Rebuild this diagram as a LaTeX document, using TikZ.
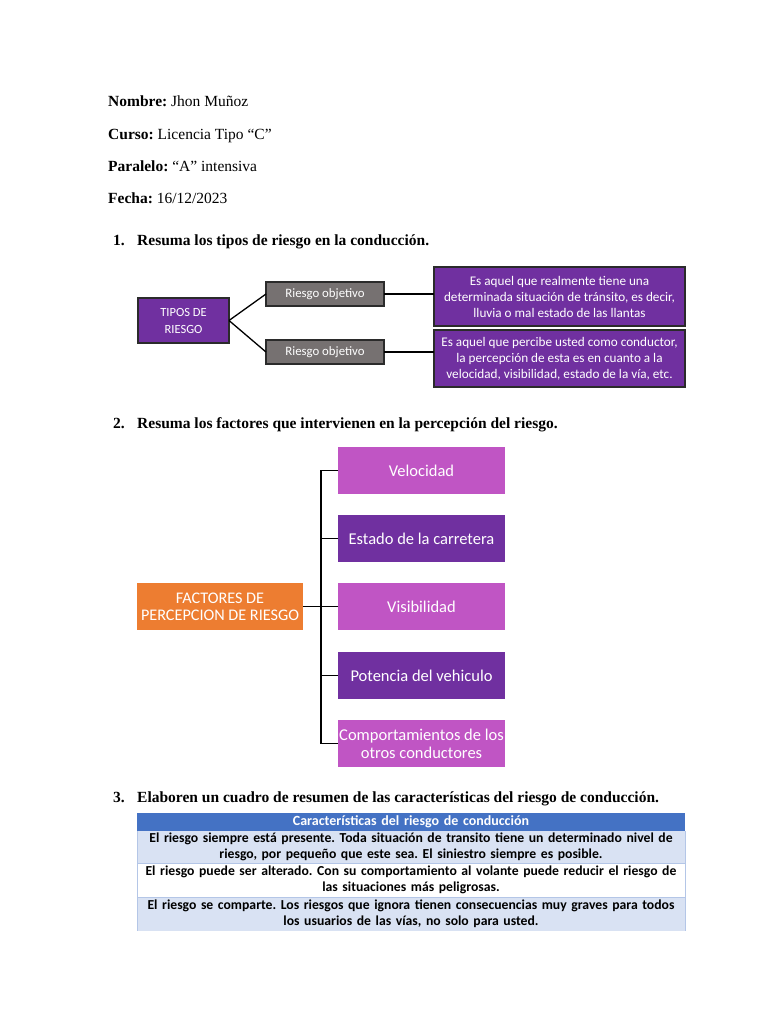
\documentclass[tikz,border=0pt]{standalone}
\usepackage{fontspec}
\setmainfont{Liberation Serif}
\newfontfamily\calfont{Carlito}
\definecolor{purp}{HTML}{7030A0}
\definecolor{magen}{HTML}{C055C4}
\definecolor{grayb}{HTML}{767171}
\definecolor{orng}{HTML}{ED7D31}
\definecolor{hblue}{HTML}{4472C4}
\definecolor{lrow}{HTML}{D9E2F3}
\definecolor{sepb}{HTML}{B4C6E7}
\definecolor{bord}{HTML}{2B2B2B}
\frenchspacing
\begin{document}
\begin{tikzpicture}[x=1pt,y=-1pt,
  hdr/.style={anchor=base west,inner sep=0,font=\fontsize{15.5}{18}\selectfont},
  boxa/.style={anchor=north west,inner sep=0,outer sep=0,draw=bord,line width=1.2pt,text=white,align=center},
  boxb/.style={anchor=north west,inner sep=0,outer sep=0,text=white,align=center,minimum width=167,minimum height=47,font=\calfont\fontsize{16.5}{18}\selectfont},
  conn/.style={draw=black,line width=1.3pt},
  conn2/.style={draw=black,line width=1.8pt},
  trow/.style={anchor=north west,inner sep=0,outer sep=0,minimum width=548,text width=546,align=center,font=\calfont\bfseries\fontsize{13.7}{16}\selectfont,text=black}
]
\useasboundingbox[fill=white] (0,0) rectangle (768,1024);

% header
\node[hdr] (n1) at (108,107) {\textbf{Nombre:} Jhon Muñoz};
\node[hdr] (n2) at (108,140) {\textbf{Curso:} Licencia Tipo “C”};
\node[hdr] (n3) at (108,172) {\textbf{Paralelo:} “A” intensiva};
\node[hdr] (n4) at (108,204) {\textbf{Fecha:} 16/12/2023};
\node[hdr] (q1n) at (113,245) {\textbf{1.}};
\node[hdr] (q1) at (137,245) {\textbf{Resuma los tipos de riesgo en la conducción.}};
\node[hdr] (q2n) at (113,428) {\textbf{2.}};
\node[hdr] (q2) at (137,428) {\textbf{Resuma los factores que intervienen en la percepción del riesgo.}};
\node[hdr] (q3n) at (113,802) {\textbf{3.}};
\node[hdr] (q3) at (137,802) {\textbf{Elaboren un cuadro de resumen de las características del riesgo de conducción.}};

% diagram 1
\node[boxa,fill=purp,minimum width=91,minimum height=45,font=\calfont\fontsize{12.5}{17}\selectfont] (t) at (138,298) {TIPOS DE\\RIESGO};
\node[boxa,fill=grayb,minimum width=118,minimum height=24,font=\calfont\fontsize{12.8}{14}\selectfont] (g1) at (266,282) {Riesgo objetivo};
\node[boxa,fill=grayb,minimum width=118,minimum height=24,font=\calfont\fontsize{12.8}{14}\selectfont] (g2) at (266,340) {Riesgo objetivo};
\node[boxa,fill=purp,minimum width=251,minimum height=59,font=\calfont\fontsize{13.2}{16}\selectfont] (r1) at (434,267) {Es aquel que realmente tiene una\\determinada situación de tránsito, es decir,\\lluvia o mal estado de las llantas};
\node[boxa,fill=purp,minimum width=251,minimum height=57,font=\calfont\fontsize{13.2}{16}\selectfont] (r2) at (434,330) {Es aquel que percibe usted como conductor,\\la percepción de esta es en cuanto a la\\velocidad, visibilidad, estado de la vía, etc.};
\draw[conn] (t.east) -- (g1.west);
\draw[conn] (t.east) -- (g2.west);
\draw[conn] (g1.east) -- (r1.west |- g1.east);
\draw[conn] (g2.east) -- (r2.west |- g2.east);

% diagram 2
\node[boxb,fill=orng,minimum width=166,font=\calfont\fontsize{16.2}{17}\selectfont] (f) at (137,583) {FACTORES DE\\PERCEPCION DE RIESGO};
\node[boxb,fill=magen] (v1) at (338,447) {Velocidad};
\node[boxb,fill=purp] (v2) at (338,515) {Estado de la carretera};
\node[boxb,fill=magen] (v3) at (338,583) {Visibilidad};
\node[boxb,fill=purp] (v4) at (338,652) {Potencia del vehiculo};
\node[boxb,fill=magen] (v5) at (338,720) {Comportamientos de los\\otros conductores};
\coordinate (sp) at (321,606.5);
\draw[conn2] (v1.west) -- (v1.west -| sp) -- (v5.west -| sp) -- (v5.west);
\draw[conn2] (v2.west) -- (v2.west -| sp);
\draw[conn2] (v3.west) -- (v3.west -| sp);
\draw[conn2] (v4.west) -- (v4.west -| sp);
\draw[conn2] (f.east) -- (f.east -| sp);

% table
\node[trow,fill=hblue,minimum height=18,text=white,font=\calfont\bfseries\fontsize{14}{16}\selectfont] (th) at (137,813) {Características del riesgo de conducción};
\node[trow,fill=lrow,minimum height=32] (t1) at (137,831) {El riesgo siempre está presente. Toda situación de transito tiene un determinado nivel de\\riesgo, por pequeño que este sea. El siniestro siempre es posible.};
\node[trow,fill=white,minimum height=34] (t2) at (137,863) {El riesgo puede ser alterado. Con su comportamiento al volante puede reducir el riesgo de\\las situaciones más peligrosas.};
\node[trow,fill=lrow,minimum height=34] (t3) at (137,897) {El riesgo se comparte. Los riesgos que ignora tienen consecuencias muy graves para todos\\los usuarios de las vías, no solo para usted.};
\draw[sepb,line width=0.8pt] (t1.south west) -- (t1.south east);
\draw[sepb,line width=0.8pt] (t2.south west) -- (t2.south east);
\draw[sepb,line width=0.6pt] (t1.north west) -- (t3.south west);
\draw[sepb,line width=0.6pt] (t1.north east) -- (t3.south east);
\end{tikzpicture}
\end{document}
